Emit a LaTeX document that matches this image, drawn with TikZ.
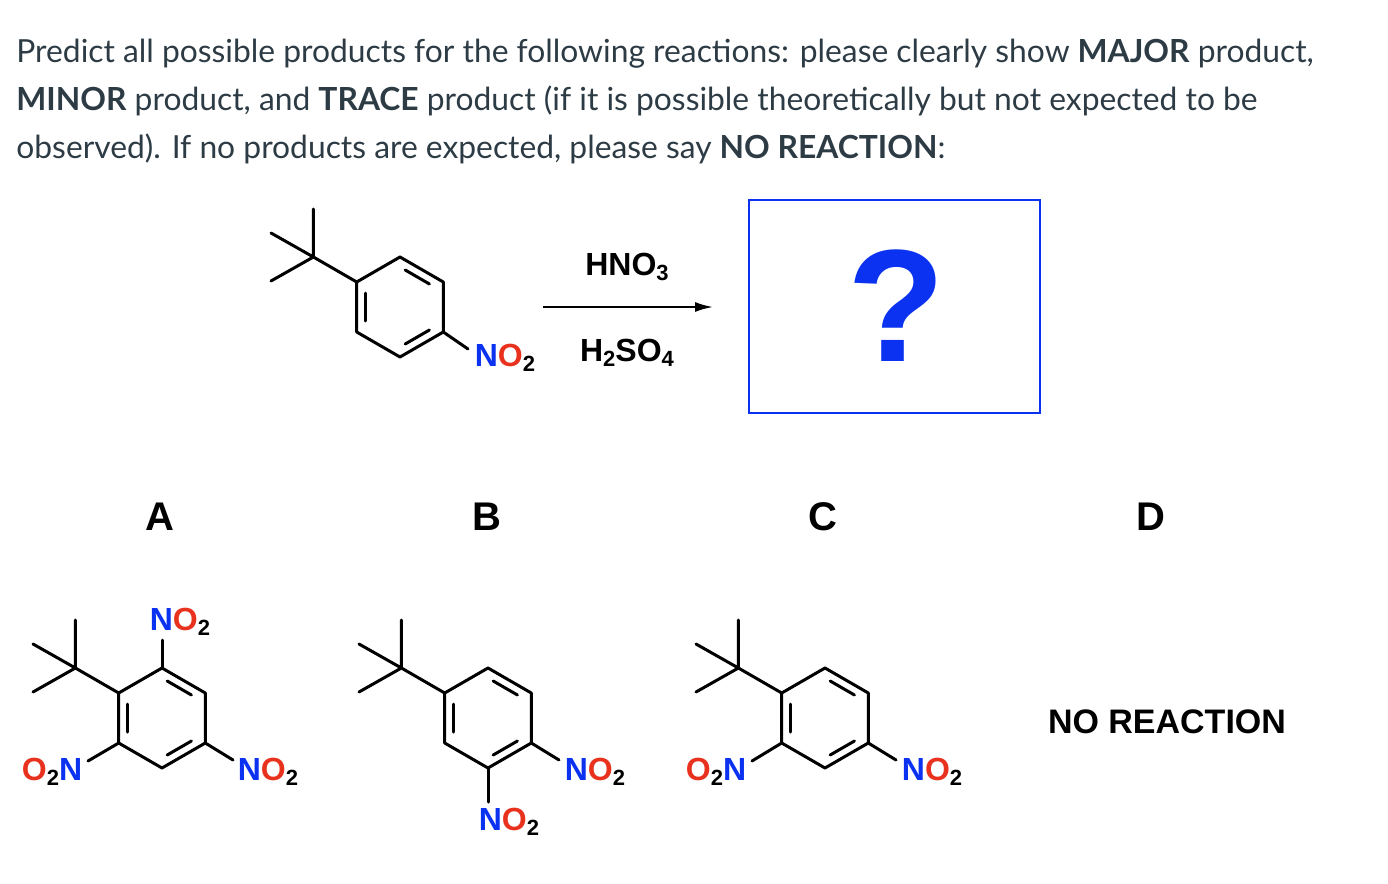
\documentclass[tikz,border=0pt]{standalone}
\usepackage{fontspec}
\setmainfont{Lato}
\newfontfamily\arial{Liberation Sans}
\usetikzlibrary{calc,arrows.meta}
\definecolor{txt}{HTML}{2D3B45}
\definecolor{nblue}{HTML}{0A32F0}
\definecolor{ored}{HTML}{E8321E}
\newcommand{\sbt}[1]{\raisebox{-0.3ex}{\fontsize{11}{11}\selectfont #1}}
\newcommand{\nitro}{{\color{nblue}N}{\color{ored}O}\sbt{2}}
\newcommand{\onitro}{{\color{ored}O}\sbt{2}{\color{nblue}N}}
\newcommand{\benz}[3]{%
 \begin{scope}[shift={(#2,#3)}]
 \coordinate (#1c) at (0,0);
 \coordinate (#1t) at (0,-50); \coordinate (#1ur) at (43.3,-25);
 \coordinate (#1lr) at (43.3,25); \coordinate (#1b) at (0,50);
 \coordinate (#1ll) at (-43.3,25); \coordinate (#1ul) at (-43.3,-25);
 \draw[bond] (#1t)--(#1ur)--(#1lr)--(#1b)--(#1ll)--(#1ul)--cycle;
 \draw[bond,shorten >=3pt,shorten <=3pt] ($(#1c)!0.8!(#1t)$)--($(#1c)!0.8!(#1ur)$);
 \draw[bond,shorten >=3pt,shorten <=3pt] ($(#1c)!0.8!(#1lr)$)--($(#1c)!0.8!(#1b)$);
 \draw[bond,shorten >=3pt,shorten <=3pt] ($(#1c)!0.8!(#1ll)$)--($(#1c)!0.8!(#1ul)$);
 \coordinate (#1q) at (-86.6,-50);
 \coordinate (#1m1) at (-86.6,-98); \coordinate (#1m2) at (-129,-74); \coordinate (#1m3) at (-129,-26);
 \draw[bond] (#1ul)--(#1q) (#1m1)--(#1q) (#1m2)--(#1q)--(#1m3);
 \end{scope}}
\begin{document}
\begin{tikzpicture}[x=0.5pt,y=-0.5pt,
 bond/.style={line width=1.5pt,black,line cap=round,line join=round},
 lab/.style={font=\arial\bfseries\fontsize{16}{16}\selectfont,inner sep=0pt},
 para/.style={anchor=base west,inner sep=0pt,text=txt,font=\fontsize{15.9}{15.9}\selectfont}]
\useasboundingbox (0,0) rectangle (1388,884);
\node[para] (l1) at (16,62) {Predict all possible products for the following reactions: please clearly show \textbf{MAJOR} product,};
\node[para] (l2) at (16,110) {\textbf{MINOR} product, and \textbf{TRACE} product (if it is possible theoretically but not expected to be};
\node[para] (l3) at (16,158) {observed). If no products are expected, please say \textbf{NO REACTION}:};
% top
\benz{s}{400}{307}
\node[lab] (sn) at (505,358) {\nitro};
\draw[bond] (slr)--(468,349);
\coordinate (a1) at (543,307); \coordinate (a2) at (713,307);
\draw[line width=1pt,-{Latex[length=9pt,width=5pt]}] (a1)--(a2);
\node[lab] (r1) at (627,267) {HNO\sbt{3}};
\node[lab] (r2) at (627,353) {H\sbt{2}SO\sbt{4}};
\node[draw=nblue,line width=1pt,minimum width=145.5pt,minimum height=106.5pt] (box) at (894.5,306.5) {};
\node[font=\arial\bfseries\fontsize{80}{80}\selectfont,text=nblue] (qm) at (896,306) {?};
% letters
\foreach \n/\x in {A/160,B/487,C/823,D/1151}
 \node[font=\arial\bfseries\fontsize{20}{20}\selectfont] (L\n) at (\x,517) {\n};
% A
\benz{a}{162}{718}
\node[lab] (an1) at (180,622) {\nitro};
\draw[bond] (at)--(162,640);
\node[lab] (an2) at (52,772) {\onitro};
\draw[bond] (all)--(88,761);
\node[lab] (an3) at (268,772) {\nitro};
\draw[bond] (alr)--(233,760);
% B
\benz{b}{488}{718}
\node[lab] (bn1) at (595,772) {\nitro};
\draw[bond] (blr)--(559,760);
\node[lab] (bn2) at (509,822) {\nitro};
\draw[bond] (bb)--(488,802);
% C
\benz{c}{825}{718}
\node[lab] (cn1) at (716,772) {\onitro};
\draw[bond] (cll)--(752,761);
\node[lab] (cn2) at (932,772) {\nitro};
\draw[bond] (clr)--(896,760);
\node[font=\arial\bfseries\fontsize{17}{17}\selectfont] (nr) at (1167,722) {NO REACTION};
\end{tikzpicture}
\end{document}
